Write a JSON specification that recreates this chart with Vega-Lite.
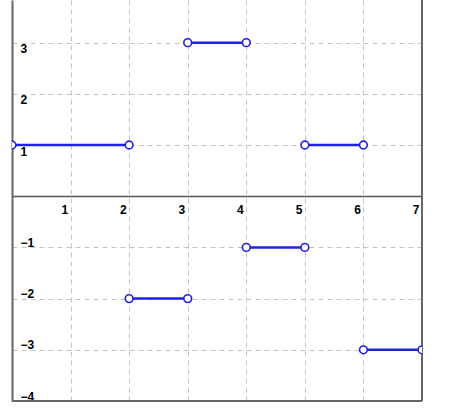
{
  "$schema": "https://vega.github.io/schema/vega-lite/v6.json",
  "width": 410,
  "height": 401,
  "autosize": {"type": "none"},
  "padding": {"left": 12, "top": 0, "right": 52, "bottom": 17},
  "background": "white",
  "config": {
    "view": {"stroke": null},
    "axis": {
      "labelFont": "Liberation Sans",
      "labelFontWeight": "bold",
      "labelFontSize": 12,
      "labelColor": "#000000",
      "gridColor": "#c4c4c4",
      "gridDash": [5, 4],
      "gridWidth": 1,
      "ticks": false,
      "tickSize": 0,
      "title": null,
      "format": "d",
      "labelFlush": false,
      "labelOverlap": false,
      "labelBound": false
    }
  },
  "datasets": {
    "segs": [
      {"x0": 0, "x1": 2, "y": 1},
      {"x0": 2, "x1": 3, "y": -2},
      {"x0": 3, "x1": 4, "y": 3},
      {"x0": 4, "x1": 5, "y": -1},
      {"x0": 5, "x1": 6, "y": 1},
      {"x0": 6, "x1": 7, "y": -3}
    ],
    "pts": [
      {"x": 0, "y": 1}, {"x": 2, "y": 1},
      {"x": 2, "y": -2}, {"x": 3, "y": -2},
      {"x": 3, "y": 3}, {"x": 4, "y": 3},
      {"x": 4, "y": -1}, {"x": 5, "y": -1},
      {"x": 5, "y": 1}, {"x": 6, "y": 1},
      {"x": 6, "y": -3}, {"x": 7, "y": -3}
    ],
    "vborder": [{"x": 7}],
    "hborder": [{"y": -4}]
  },
  "layer": [
    {
      "data": {"name": "segs"},
      "mark": {"type": "rule", "color": "#2020e0", "strokeWidth": 2.5, "clip": true},
      "encoding": {
        "x": {
          "field": "x0", "type": "quantitative",
          "scale": {"domain": [0, 7], "nice": false, "zero": false},
          "axis": {
            "orient": "bottom",
            "offset": -205,
            "values": [1, 2, 3, 4, 5, 6, 7],
            "format": "d",
            "domainColor": "#555555",
            "domainWidth": 1.5,
            "labelAlign": "right",
            "labelBaseline": "top",
            "labelPadding": 8,
            "labelOffset": -3,
            "grid": true
          }
        },
        "x2": {"field": "x1"},
        "y": {
          "field": "y", "type": "quantitative",
          "scale": {"domain": [-4, 3.833], "nice": false, "zero": false},
          "axis": {
            "orient": "left",
            "values": [-4, -3, -2, -1, 1, 2, 3],
            "format": "d",
            "domainColor": "#666666",
            "domainWidth": 2,
            "labelAlign": "left",
            "labelPadding": -8,
            "labelBaseline": {"condition": {"test": "datum.value > 0", "value": "top"}, "value": "alphabetic"},
            "labelOffset": {"condition": {"test": "datum.value > 0", "value": 1}, "value": -1},
            "grid": true
          }
        }
      }
    },
    {
      "data": {"name": "vborder"},
      "mark": {"type": "rule", "color": "#666666", "strokeWidth": 2},
      "encoding": {"x": {"field": "x", "type": "quantitative"}}
    },
    {
      "data": {"name": "hborder"},
      "mark": {"type": "rule", "color": "#666666", "strokeWidth": 2},
      "encoding": {"y": {"field": "y", "type": "quantitative"}}
    },
    {
      "data": {"name": "pts"},
      "mark": {"type": "point", "shape": "circle", "filled": true, "fill": "white", "stroke": "#2020e0", "strokeWidth": 1.6, "size": 60, "opacity": 1, "clip": true},
      "encoding": {
        "x": {"field": "x", "type": "quantitative"},
        "y": {"field": "y", "type": "quantitative"}
      }
    }
  ]
}
